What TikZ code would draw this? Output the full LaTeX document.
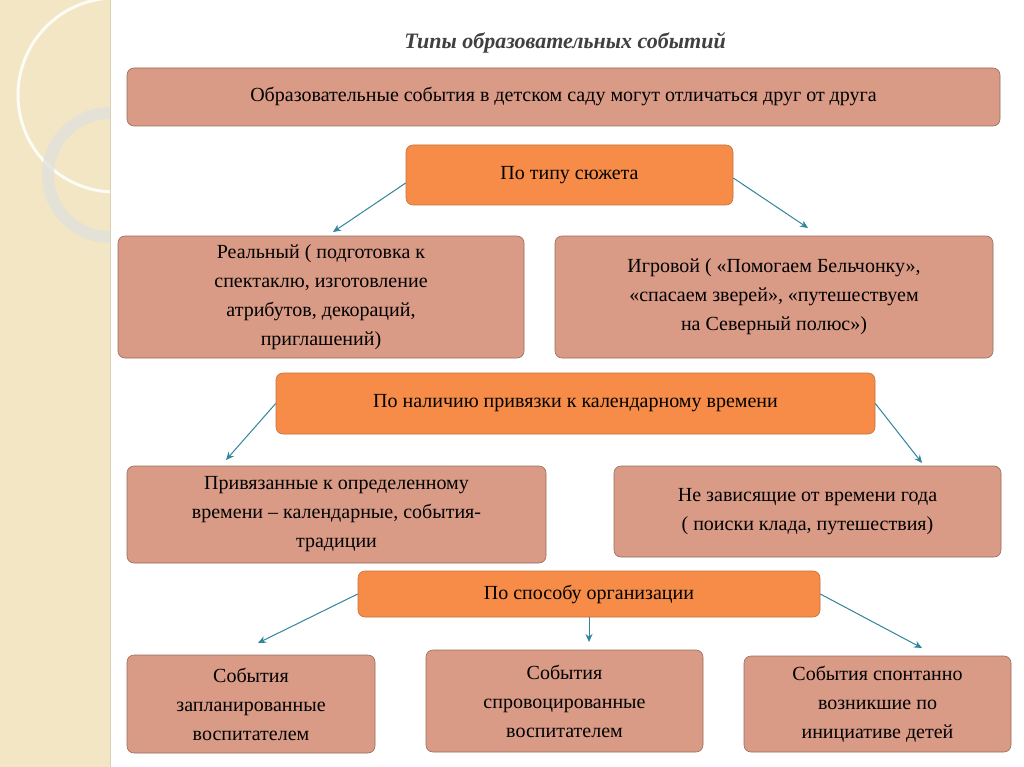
\documentclass[tikz,border=0pt]{standalone}
\usepackage{fontspec}
\setmainfont{Liberation Serif}
\definecolor{salmon}{HTML}{D99A86}
\definecolor{orng}{HTML}{F68C48}
\definecolor{teal}{HTML}{31859C}
\definecolor{beige}{HTML}{F2E6C4}
\tikzset{
 bx/.style={draw=salmon!70!black,line width=0.6pt,fill=salmon,rounded corners=7pt,align=center,font=\fontsize{20}{29}\selectfont,inner sep=0pt},
 ob/.style={bx,fill=orng,draw=orng!80!black},
 ar/.style={-{Stealth[length=8pt,width=7pt]},teal,line width=1pt}
}
\usetikzlibrary{arrows.meta}
\begin{document}
\begin{tikzpicture}[x=1pt,y=-1pt]
\useasboundingbox (0,0) rectangle (1024,767);
\fill[white] (0,0) rectangle (1024,767);
\fill[beige] (0,0) rectangle (110,767);
\begin{scope}
\clip (0,0) rectangle (110,767);
\draw[white!85!beige,line width=3pt] (115,95) circle (97);
\draw[gray!25,line width=12pt,opacity=0.7] (110,175) circle (62);
\end{scope}
\draw[beige!80!gray,line width=0.8pt] (110,0) -- (110,767);
\node[font=\fontsize{22}{26}\selectfont\bfseries\itshape,text=black!75] (title) at (565,43) {Типы образовательных событий};
\node[bx,minimum width=873,minimum height=58] (top) at (563.5,97) {Образовательные события в детском саду могут отличаться друг от друга};
\node[ob,minimum width=327,minimum height=60] (s1) at (569.5,175) {По типу сюжета};
\node[bx,minimum width=406,minimum height=122] (real) at (321,297) {Реальный ( подготовка к\\спектаклю, изготовление\\атрибутов, декораций,\\приглашений)};
\node[bx,minimum width=438,minimum height=122] (igr) at (774,297) {Игровой ( «Помогаем Бельчонку»,\\«спасаем зверей», «путешествуем\\на Северный полюс»)};
\node[ob,minimum width=599,minimum height=61] (s2) at (575.5,403.5) {По наличию привязки к календарному времени};
\node[bx,minimum width=419,minimum height=97] (pr) at (336.5,514.5) {Привязанные  к определенному\\времени – календарные, события-\\традиции};
\node[bx,minimum width=387,minimum height=91] (nz) at (807.5,511.5) {Не зависящие от времени года\\( поиски клада, путешествия)};
\node[ob,minimum width=462,minimum height=46] (s3) at (589,594) {По способу организации};
\node[bx,minimum width=248,minimum height=98] (b1) at (251,704) {События\\запланированные\\воспитателем};
\node[bx,minimum width=277,minimum height=102] (b2) at (564.5,701) {События\\спровоцированные\\воспитателем};
\node[bx,minimum width=267,minimum height=96] (b3) at (877.5,704) {События спонтанно\\возникшие по\\инициативе детей};
\coordinate (e1) at (333,232); \coordinate (e2) at (808,228);
\coordinate (e3) at (226,460); \coordinate (e4) at (922,463);
\coordinate (e5) at (258,643); \coordinate (e6) at (589,642); \coordinate (e7) at (922,648);
\draw[ar] (s1.west |- 0,183) -- (e1);
\draw[ar] (s1.east |- 0,178) -- (e2);
\draw[ar] (s2.west) -- (e3);
\draw[ar] (s2.east) -- (e4);
\draw[ar] (s3.west) -- (e5);
\draw[ar] (s3.south -| e6) -- (e6);
\draw[ar] (s3.east) -- (e7);
\end{tikzpicture}
\end{document}
